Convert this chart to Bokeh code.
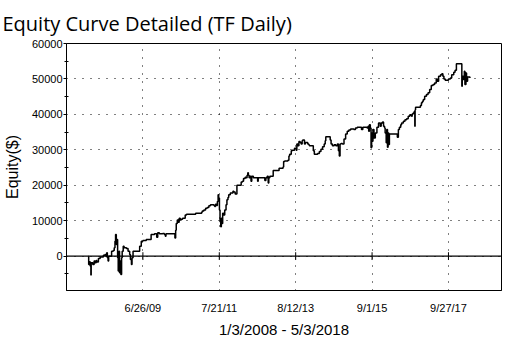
from bokeh.plotting import figure
from bokeh.models import Range1d, FixedTicker, Span
from bokeh.embed import file_html
from bokeh.resources import INLINE

# bar index (trading days since 1/3/2008) and equity values
bar_index = [0, 1, 7, 11, 16, 18, 25, 29, 38, 45, 52, 56, 67, 79, 90, 101, 112, 119, 124, 128,
             133, 137, 146, 157, 168, 175, 180, 184, 189, 193, 198, 202, 207, 211, 216, 220, 225,
             229, 236, 242, 258, 269, 280, 285, 292, 296, 303, 343, 348, 359, 370, 381, 393, 415,
             426, 438, 449, 460, 464, 471, 482, 505, 516, 523, 527, 583,
             588, 593, 597, 604, 610, 617, 624, 631, 640, 651, 658, 667, 725, 729, 763, 770, 774,
             785, 797, 808, 819, 830, 841, 853, 859, 864, 871, 877, 882, 886, 891, 895, 900, 904,
             909, 913, 920, 927, 936, 942, 949, 954, 965, 976, 983, 989, 998, 1005, 1010, 1032,
             1039, 1048, 1055, 1066, 1072, 1079, 1084, 1088, 1093, 1099, 1106, 1111, 1122, 1144,
             1151, 1155, 1189,
             1200, 1207, 1216, 1223, 1227, 1234, 1257, 1290, 1297, 1313, 1324, 1328, 1335, 1357,
             1364, 1369, 1380, 1387, 1396, 1402, 1414, 1418, 1425, 1432, 1440, 1447, 1454, 1458,
             1470, 1476, 1492, 1499, 1503, 1526, 1530, 1537, 1559, 1571, 1582, 1593, 1604, 1611,
             1615, 1638, 1645, 1651, 1660, 1672, 1683, 1694, 1701, 1707, 1712, 1719, 1728, 1739,
             1750, 1761, 1772, 1784,
             1806, 1817, 1829, 1851, 1858, 1867, 1885, 1896, 1903, 1907, 1912, 1918, 1923, 1927,
             1932, 1936, 1943, 1952, 1963, 1974, 1986, 1992, 2001, 2008, 2015, 2019, 2026, 2030,
             2035, 2039, 2044, 2048, 2098, 2102, 2109, 2116, 2125, 2131, 2143, 2154, 2165, 2176,
             2187, 2194, 2199, 2203, 2210, 2217, 2221, 2223, 2226, 2255,
             2259, 2266, 2273, 2279, 2288, 2300, 2311, 2322, 2333, 2345, 2356, 2367, 2374, 2383,
             2396, 2405, 2412, 2419, 2428, 2441, 2450, 2463, 2472, 2486, 2495, 2504, 2540, 2541,
             2544, 2551, 2558, 2562, 2569, 2573, 2580, 2596]

equity = [0, -2348, -1596, -2817, -5352, -1878, -1878, -2348, -1409, -1878, -1221, -1690, -657,
          -282, -282, 282, 470, 0, 939, -470, -1409, 0, 0, 1409, 1596, 2348, 4226, 6104, 3287,
          4695, -470, -4226, 1409, -4695, -1409, -5165, -470, 1409, 2817, 2348, 2160, 1409, 470,
          -939, -2348, -470, 1409, 1409, 2817, 4226, 4413, 4413, 4695, 4695, 6104, 6104, 6291,
          6291, 5352, 6573, 6291, 6385, 6104, 5634, 6291, 6291,
          5145, 7334, 9238, 10190, 9524, 10666, 10190, 10381, 10666, 10666, 11618, 11809, 11809,
          12094, 12094, 12380, 12760, 13046, 13522, 13712, 14188, 14474, 14474, 14284, 13998,
          14664, 14284, 15426, 17330, 16378, 13046, 9714, 8286, 10666, 9238, 12094, 11618, 13046,
          14474, 15902, 16568, 17330, 17806, 17806, 18282, 18092, 17521, 17521, 19996, 19996,
          20948, 21138, 21900, 22281, 22090, 22852, 23518, 22852, 22090, 22566, 21138, 22566,
          22090, 22090, 21138, 22090, 22090,
          21334, 22095, 22571, 20667, 22095, 22571, 24190, 24190, 24762, 24762, 25143, 26667,
          26857, 27048, 28286, 28762, 29714, 29905, 29905, 30476, 29905, 31619, 31143, 32381,
          32095, 31619, 32571, 32762, 31619, 32095, 31619, 31429, 31143, 31143, 29714, 28762,
          28952, 29524, 30190, 30857, 31619, 32571, 33714, 33714, 32762, 31619, 31143, 31429,
          31143, 31619, 29714, 28286, 31619, 31810, 31619, 33048, 34476, 35238, 35619, 35905,
          35701, 36168, 36355, 36355, 35701, 36355, 36355, 36168, 36636, 35234, 37103, 36168,
          30560, 34766, 32430, 35701, 33364, 34766, 36355, 37570, 36636, 37570, 37850, 36636,
          36168, 34766, 31962, 35701, 30747, 34766, 31495, 34486, 34486, 33551, 35701, 36355,
          37103, 37570, 38037, 38505, 38785, 39439, 39907, 39720, 39439, 40093, 40374, 40841,
          36636, 41308, 42000, 42000,
          42523, 43271, 43738, 44206, 45140, 45607, 46075, 47009, 48131, 48411, 48879, 50000,
          49346, 50748, 51215, 51495, 50748, 50000, 49626, 49626, 50000, 50280, 51215, 51869,
          52430, 54299, 54299, 47944, 50748, 49813, 52150, 48411, 51682, 49346, 50561, 50280]

x_ticks = [370, 890, 1410, 1930, 2450]
x_tick_labels = ["6/26/09", "7/21/11", "8/12/13", "9/1/15", "9/27/17"]
y_ticks = [0, 10000, 20000, 30000, 40000, 50000, 60000]
y_minor_ticks = [-5000, 5000, 15000, 25000, 35000, 45000, 55000]

title_text = "Equity Curve Detailed (TF Daily)"
x_title = "1/3/2008 - 5/3/2018"
y_title = "Equity($)"

p = figure(width=506, height=342, output_backend="svg", toolbar_location=None,
           x_range=Range1d(-150, 2811), y_range=Range1d(-9700, 60000),
           min_border_left=61, min_border_right=5, min_border_top=42, min_border_bottom=52,
           title=title_text)
p.background_fill_color = "white"
p.border_fill_color = "white"
p.outline_line_color = "black"
p.outline_line_width = 1

p.title.align = "left"
p.title.offset = -64
p.title.standoff = 14
p.title.text_font = "Open Sans"
p.title.text_font_size = "20px"
p.title.text_font_style = "normal"
p.title.text_color = "black"

# axes
xa = p.xaxis[0]
xa.ticker = FixedTicker(ticks=x_ticks)
xa.major_label_overrides = {t: l for t, l in zip(x_ticks, x_tick_labels)}
xa.major_tick_out = 0
xa.major_tick_in = 0
xa.minor_tick_out = 0
xa.minor_tick_in = 0
xa.major_label_standoff = 11
xa.major_label_text_font = "Liberation Sans"
xa.major_label_text_font_size = "11px"
xa.major_label_text_color = "black"
xa.axis_line_color = "black"
xa.axis_label = x_title
xa.axis_label_text_font = "Liberation Sans"
xa.axis_label_text_font_size = "15px"
xa.axis_label_text_font_style = "normal"
xa.axis_label_text_color = "black"
xa.axis_label_standoff = 4

ya = p.yaxis[0]
ya.ticker = FixedTicker(ticks=y_ticks, minor_ticks=y_minor_ticks)
ya.major_tick_out = 3
ya.major_tick_in = 0
ya.minor_tick_out = 2
ya.minor_tick_in = 2
ya.major_tick_line_color = "black"
ya.minor_tick_line_color = "black"
ya.major_label_standoff = 1
ya.major_label_text_font = "Liberation Sans"
ya.major_label_text_font_size = "11px"
ya.major_label_text_color = "black"
ya.axis_line_color = "black"
ya.axis_label = y_title
ya.axis_label_text_font = "Liberation Sans"
ya.axis_label_text_font_size = "16px"
ya.axis_label_text_font_style = "normal"
ya.axis_label_text_color = "black"
ya.axis_label_standoff = 8

# dotted grids
p.xgrid.ticker = FixedTicker(ticks=x_ticks)
p.ygrid.ticker = FixedTicker(ticks=y_ticks)
for g in (p.xgrid[0], p.ygrid[0]):
    g.grid_line_color = "black"
    g.grid_line_dash = "1 7"
    g.grid_line_width = 1

# zero line
p.add_layout(Span(location=0, dimension="width", line_color="black", line_width=1.2))

# small cross marks where the x ticks meet the zero line
p.segment(x0=x_ticks, x1=x_ticks, y0=[-1100] * len(x_ticks), y1=[1100] * len(x_ticks),
          line_color="black", line_width=1)

# equity curve (stepped, as trade results post)
p.step(bar_index, equity, mode="after", line_color="black", line_width=1.5)

open("out.html", "w").write(file_html(p, INLINE))
